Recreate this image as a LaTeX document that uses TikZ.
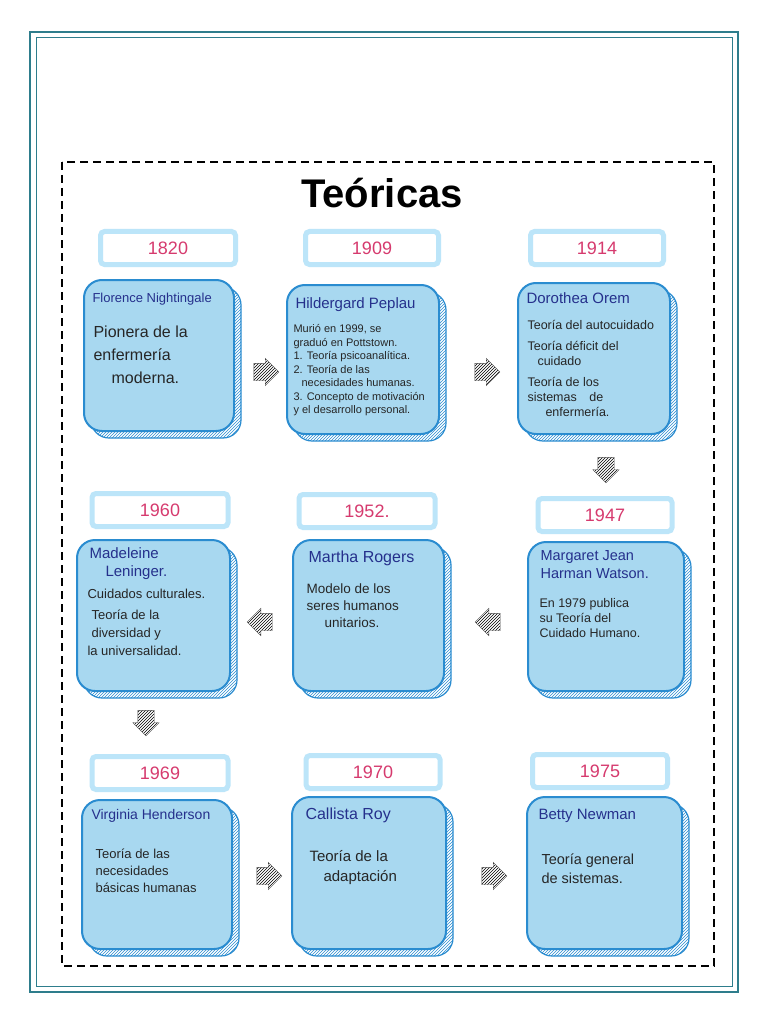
\documentclass[tikz,border=0pt]{standalone}
\usepackage{fontspec}
\setmainfont{Liberation Sans}
\usetikzlibrary{patterns,shapes.arrows}
\definecolor{frame}{HTML}{2E7D8C}
\definecolor{boxfill}{HTML}{A8D8F0}
\definecolor{boxline}{HTML}{2A8CD0}
\definecolor{glow}{HTML}{8FD3F5}
\definecolor{yearred}{HTML}{D63A6E}
\definecolor{namecol}{HTML}{25308C}
\tikzset{
 yearbox/.style={draw=glow!60!white,line width=5pt,fill=white,rounded corners=4pt,inner sep=0pt,
   font=\fontsize{18}{18}\selectfont,text=yearred},
 ttl/.style={text=namecol,font=\fontsize{14}{17}\selectfont,anchor=north west,align=left},
 body/.style={text=black!85,font=\fontsize{12}{15}\selectfont,anchor=north west,align=left},
 harrow/.style={single arrow,draw=black!70,line width=0.4pt,pattern={north east lines},pattern color=black,
   single arrow head extend=5pt,inner sep=1pt}
}
\newcommand{\arrowbody}{\rule{0pt}{15pt}\rule{14pt}{0pt}}
\begin{document}
\begin{tikzpicture}[x=1pt,y=-1pt]
\useasboundingbox (0,0) rectangle (768,1024);
\fill[white] (0,0) rectangle (768,1024);
\draw[frame,line width=2.5pt] (30,32) rectangle (738,992);
\draw[frame,line width=1pt] (36,38) rectangle (732,986);
\draw[dashed,line width=1.3pt,dash pattern=on 8pt off 5pt] (62,162) rectangle (714,966);
\node (title) at (382,193) {\fontsize{40}{40}\selectfont\bfseries Teóricas};
\newcommand{\mycard}[5]{%
 \fill[white] (#1+7,#2+7) [rounded corners=18pt] rectangle (#3+7,#4+7);
 \draw[boxline,line width=1.2pt,pattern={north east lines},pattern color=boxline,rounded corners=18pt] (#1+7,#2+7) rectangle (#3+7,#4+7);
 \draw[boxline,line width=2pt,fill=boxfill,rounded corners=18pt] (#1,#2) rectangle (#3,#4);
 \node[inner sep=0pt] (#5) at ({(#1+#3)/2},{(#2+#4)/2}) {};}
% row 1
\node[yearbox,minimum width=135pt,minimum height=33pt] (y1) at (168,248) {1820};
\node[yearbox,minimum width=133pt,minimum height=33pt] (y2) at (372,248) {1909};
\node[yearbox,minimum width=133pt,minimum height=33pt] (y3) at (597,248) {1914};
\mycard{84}{280}{234}{431}{c1}
\mycard{287}{285}{439}{434}{c2}
\mycard{518}{283}{670}{434}{c3}
\node[ttl,font=\fontsize{13}{15}\selectfont] (t1) at (89,290) {Florence Nightingale};
\node[body,font=\fontsize{16}{23}\selectfont] (b1) at (90,322) {Pionera de la\\enfermería\\\hspace{18pt}moderna.};
\node[ttl,font=\fontsize{15}{17}\selectfont] (t2) at (292,294) {Hildergard Peplau};
\node[body,font=\fontsize{11}{13.5}\selectfont] (b2) at (290,321) {Murió en 1999, se\\graduó en Pottstown.\\1. Teoría psicoanalítica.\\2. Teoría de las\\\hspace{8pt}necesidades humanas.\\3. Concepto de motivación\\y el desarrollo personal.};
\node[ttl,font=\fontsize{15}{17}\selectfont] (t3) at (523,289) {Dorothea Orem};
\node[body,font=\fontsize{12.5}{15}\selectfont] (b3) at (524,317) {Teoría del autocuidado\\[6pt]Teoría déficit del\\\hspace{10pt}cuidado\\[6pt]Teoría de los\\sistemas\quad de\\\hspace{18pt}enfermería.};
% row 2
\node[yearbox,minimum width=136pt,minimum height=33pt] (y4) at (160,510) {1960};
\node[yearbox,minimum width=136pt,minimum height=33pt] (y5) at (367,511) {1952.};
\node[yearbox,minimum width=134pt,minimum height=33pt] (y6) at (605,515) {1947};
\mycard{77}{540}{230}{691}{c4}
\mycard{293}{540}{444}{691}{c5}
\mycard{528}{542}{684}{691}{c6}
\node[ttl,align=left,font=\fontsize{15}{18}\selectfont] (t4) at (86,544) {Madeleine\\\hspace{16pt}Leninger.};
\node[body,font=\fontsize{13}{18}\selectfont] (b4) at (84,586) {Cuidados culturales.\\[3pt]\hspace{4pt}Teoría de la\\\hspace{4pt}diversidad y\\la universalidad.};
\node[ttl,font=\fontsize{16}{18}\selectfont] (t5) at (305,547) {Martha Rogers};
\node[body,font=\fontsize{13.5}{17}\selectfont] (b5) at (303,580) {Modelo de los\\seres humanos\\\hspace{18pt}unitarios.};
\node[ttl,font=\fontsize{14.5}{18}\selectfont] (t6) at (537,547) {Margaret Jean\\Harman Watson.};
\node[body,font=\fontsize{12.5}{15}\selectfont] (b6) at (536,595) {En 1979 publica\\su Teoría del\\Cuidado Humano.};
% row 3
\node[yearbox,minimum width=136pt,minimum height=33pt] (y7) at (160,773) {1969};
\node[yearbox,minimum width=134pt,minimum height=33pt] (y8) at (373,772) {1970};
\node[yearbox,minimum width=135pt,minimum height=33pt] (y9) at (600,771) {1975};
\mycard{82}{800}{232}{949}{c7}
\mycard{292}{797}{446}{949}{c8}
\mycard{527}{797}{682}{949}{c9}
\node[ttl,font=\fontsize{14}{17}\selectfont] (t7) at (88,806) {Virginia Henderson};
\node[body,font=\fontsize{13}{17}\selectfont] (b7) at (92,845) {Teoría de las\\necesidades\\básicas humanas};
\node[ttl,font=\fontsize{16}{18}\selectfont] (t8) at (302,804) {Callista Roy};
\node[body,font=\fontsize{15}{20}\selectfont] (b8) at (306,847) {Teoría de la\\\hspace{14pt}adaptación};
\node[ttl,font=\fontsize{15}{17}\selectfont] (t9) at (535,806) {Betty Newman};
\node[body,font=\fontsize{14.5}{19}\selectfont] (b9) at (538,850) {Teoría general\\de sistemas.};
% arrows
\node[harrow] (a1) at (262,372) {\arrowbody};
\node[harrow] (a2) at (483,372) {\arrowbody};
\node[harrow,shape border rotate=270] (a3) at (606,466) {\arrowbody};
\node[harrow,shape border rotate=180] (a4) at (264,622) {\arrowbody};
\node[harrow,shape border rotate=180] (a5) at (492,622) {\arrowbody};
\node[harrow,shape border rotate=270] (a6) at (146,719) {\arrowbody};
\node[harrow] (a7) at (265,876) {\arrowbody};
\node[harrow] (a8) at (490,876) {\arrowbody};
\end{tikzpicture}
\end{document}
